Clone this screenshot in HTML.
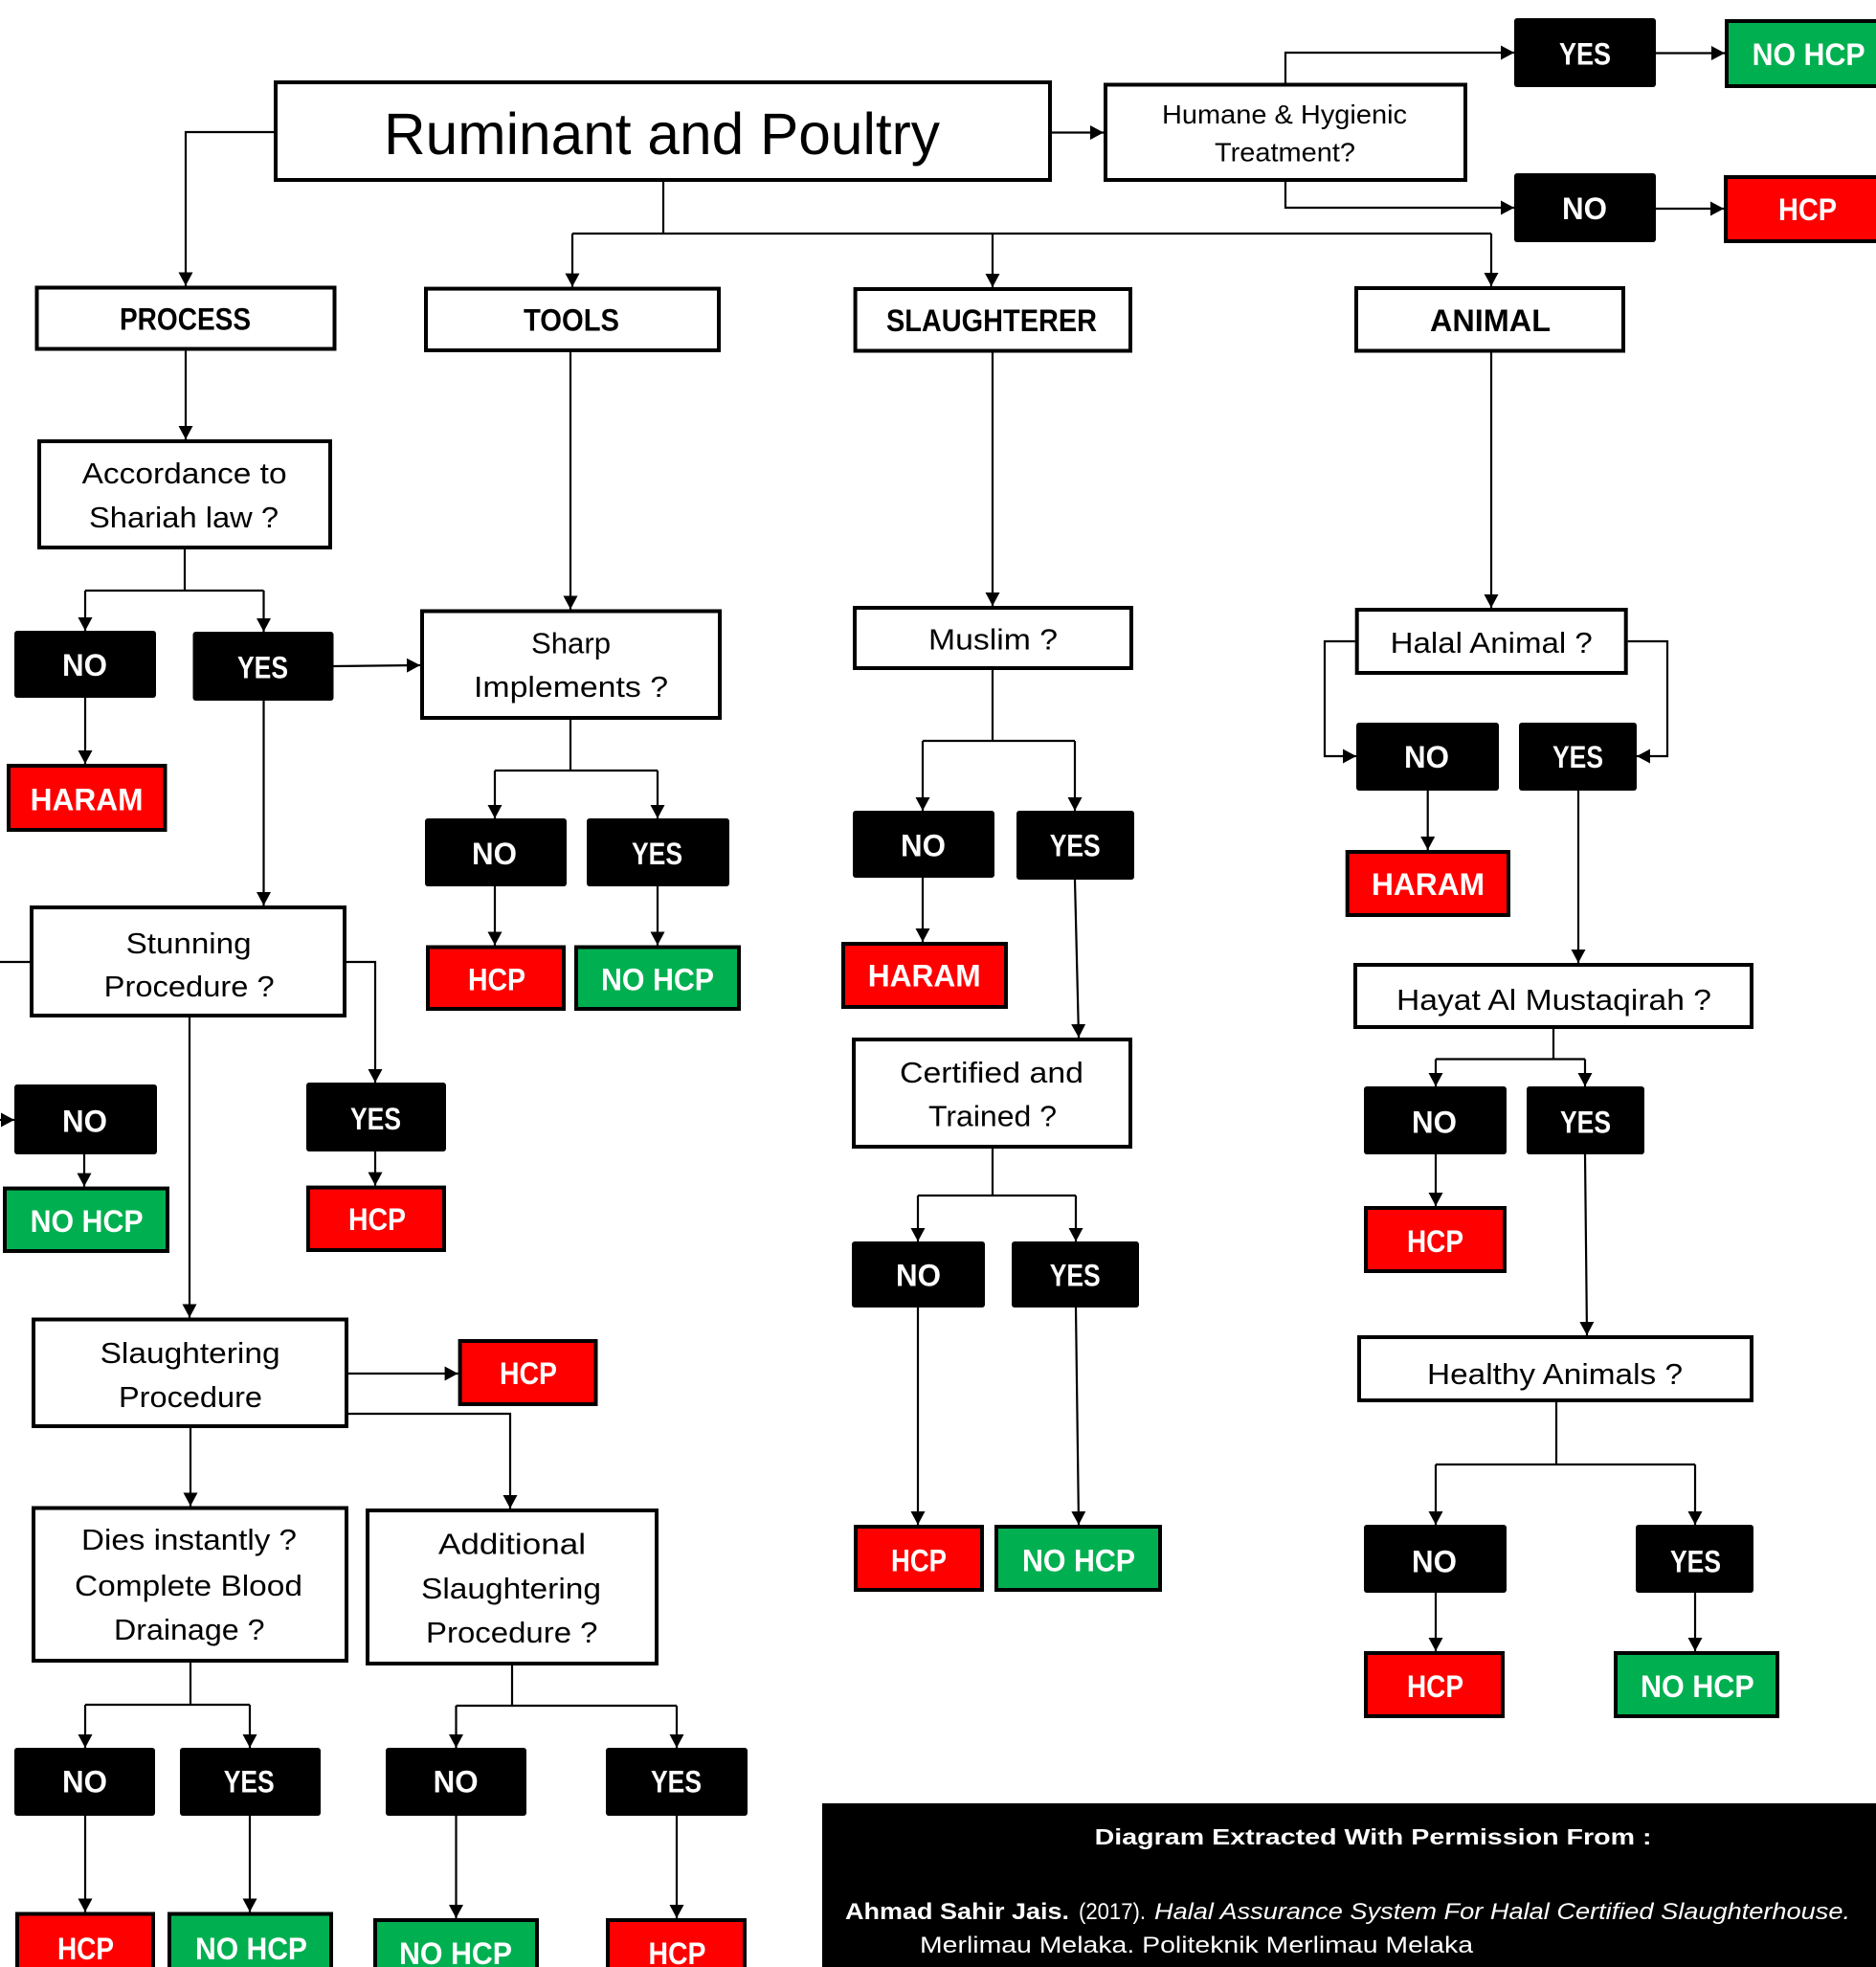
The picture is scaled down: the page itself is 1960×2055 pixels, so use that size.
<!DOCTYPE html>
<html><head><meta charset="utf-8"><style>html,body{margin:0;padding:0;background:#fff;}svg{display:block}</style></head>
<body>
<svg width="1960" height="2055" viewBox="0 0 1960 2055" xmlns="http://www.w3.org/2000/svg">
<defs>
<marker id="a" markerUnits="userSpaceOnUse" markerWidth="14" markerHeight="15" refX="14" refY="7.5" orient="auto"><path d="M0,0 L14,7.5 L0,15 z" fill="#000"/></marker>
</defs>
<rect width="1960" height="2055" fill="#fff"/>
<!-- connectors -->
<g fill="none" stroke="#000" stroke-width="2.2">
<path d="M286,138 H194 V298.5" marker-end="url(#a)"/>
<path d="M693,190 V244 M598,244 H1558"/>
<path d="M598,244 V299.6" marker-end="url(#a)"/>
<path d="M1037,244 V300" marker-end="url(#a)"/>
<path d="M1558,244 V299" marker-end="url(#a)"/>
<path d="M1099,138.5 H1153" marker-end="url(#a)"/>
<path d="M1343,86.5 V55 H1582" marker-end="url(#a)"/>
<path d="M1343,190 V217 H1582" marker-end="url(#a)"/>
<path d="M1730,55.5 H1802" marker-end="url(#a)"/>
<path d="M1730,218 H1801" marker-end="url(#a)"/>
<path d="M194,366.6 V459" marker-end="url(#a)"/>
<path d="M193,574 V617 M89,617 H275.5"/>
<path d="M89,617 V659" marker-end="url(#a)"/>
<path d="M275.5,617 V660" marker-end="url(#a)"/>
<path d="M89,729 V798" marker-end="url(#a)"/>
<path d="M348.5,696 L439,695" marker-end="url(#a)"/>
<path d="M275.5,732 V946" marker-end="url(#a)"/>
<path d="M596,368 V636.5" marker-end="url(#a)"/>
<path d="M596,752 V805 M517,805 H687"/>
<path d="M517,805 V855" marker-end="url(#a)"/>
<path d="M687,805 V855" marker-end="url(#a)"/>
<path d="M517,926 V987.5" marker-end="url(#a)"/>
<path d="M687,926 V987.5" marker-end="url(#a)"/>
<path d="M1037,368.5 V633" marker-end="url(#a)"/>
<path d="M1037,700 V774 M964,774 H1123"/>
<path d="M964,774 V847" marker-end="url(#a)"/>
<path d="M1123,774 V847" marker-end="url(#a)"/>
<path d="M964,917 V984" marker-end="url(#a)"/>
<path d="M1123,919 L1127,1084" marker-end="url(#a)"/>
<path d="M1037,1200 V1249 M959,1249 H1124"/>
<path d="M959,1249 V1297" marker-end="url(#a)"/>
<path d="M1124,1249 V1297" marker-end="url(#a)"/>
<path d="M959,1366 V1593" marker-end="url(#a)"/>
<path d="M1124,1366 L1127,1593" marker-end="url(#a)"/>
<path d="M1558,368.5 V635" marker-end="url(#a)"/>
<path d="M1415.7,670 H1384 V790 H1417" marker-end="url(#a)"/>
<path d="M1700.7,670 H1742 V790 H1710" marker-end="url(#a)"/>
<path d="M1491.7,825.7 V888" marker-end="url(#a)"/>
<path d="M1649,825.7 V1006" marker-end="url(#a)"/>
<path d="M1623,1075 V1106.5 M1500,1106.5 H1656"/>
<path d="M1500,1106.5 V1135" marker-end="url(#a)"/>
<path d="M1656,1106.5 V1135" marker-end="url(#a)"/>
<path d="M1500,1206 V1260" marker-end="url(#a)"/>
<path d="M1656,1206 L1658,1395" marker-end="url(#a)"/>
<path d="M1626,1465 V1530 M1500,1530 H1771"/>
<path d="M1500,1530 V1593" marker-end="url(#a)"/>
<path d="M1771,1530 V1593" marker-end="url(#a)"/>
<path d="M1500,1664 V1725" marker-end="url(#a)"/>
<path d="M1771,1664 V1725" marker-end="url(#a)"/>
<path d="M0,1005 H31"/>
<path d="M-5,1170 H15" marker-end="url(#a)"/>
<path d="M362,1005 H392 V1131" marker-end="url(#a)"/>
<path d="M392,1203 V1238.6" marker-end="url(#a)"/>
<path d="M88,1206 V1239.6" marker-end="url(#a)"/>
<path d="M198,1063 V1376.5" marker-end="url(#a)"/>
<path d="M364,1435 H478.6" marker-end="url(#a)"/>
<path d="M364,1477 H533 V1576" marker-end="url(#a)"/>
<path d="M199,1492 V1573.5" marker-end="url(#a)"/>
<path d="M199,1737 V1781 M89,1781 H261"/>
<path d="M89,1781 V1826" marker-end="url(#a)"/>
<path d="M261,1781 V1826" marker-end="url(#a)"/>
<path d="M89,1897 V1997.5" marker-end="url(#a)"/>
<path d="M261,1897 V1997.5" marker-end="url(#a)"/>
<path d="M535,1740 V1782 M476.5,1782 H707"/>
<path d="M476.5,1782 V1826" marker-end="url(#a)"/>
<path d="M707,1782 V1826" marker-end="url(#a)"/>
<path d="M476.5,1897 V2004" marker-end="url(#a)"/>
<path d="M707,1897 V2004" marker-end="url(#a)"/>
</g>

<!-- white boxes -->
<g fill="#fff" stroke="#000" stroke-width="4">
<rect x="288" y="86" width="809" height="102"/>
<rect x="1155" y="88.5" width="376" height="99.5"/>
<rect x="38.5" y="300.5" width="311" height="64"/>
<rect x="445" y="301.6" width="306" height="64.4"/>
<rect x="893.6" y="302" width="287.4" height="64.5"/>
<rect x="1417" y="301" width="279" height="65.5"/>
<rect x="41" y="461" width="304" height="111"/>
<rect x="441" y="638.5" width="311" height="111.5"/>
<rect x="893" y="635" width="289" height="63"/>
<rect x="1417.7" y="637" width="281" height="66"/>
<rect x="33" y="948" width="327" height="113"/>
<rect x="892" y="1086" width="289" height="112"/>
<rect x="1416" y="1008" width="414" height="65"/>
<rect x="1420" y="1397" width="410" height="66"/>
<rect x="35" y="1378.5" width="327" height="111.5"/>
<rect x="35" y="1575.5" width="327" height="159.5"/>
<rect x="384" y="1578" width="302" height="160"/>
</g>

<!-- black boxes -->
<g fill="#000">
<rect x="1582" y="19" width="148" height="72" rx="3"/>
<rect x="1582" y="181" width="148" height="72" rx="3"/>
<rect x="15" y="659" width="148" height="70" rx="3"/>
<rect x="201.5" y="660" width="147" height="72" rx="3"/>
<rect x="444" y="855" width="148" height="71" rx="3"/>
<rect x="613" y="855" width="149" height="71" rx="3"/>
<rect x="891" y="847" width="148" height="70" rx="3"/>
<rect x="1062" y="847" width="123" height="72" rx="3"/>
<rect x="1417" y="755" width="149" height="71" rx="3"/>
<rect x="1587" y="755" width="123" height="71" rx="3"/>
<rect x="15" y="1133" width="149" height="73" rx="3"/>
<rect x="320" y="1131" width="146" height="72" rx="3"/>
<rect x="890" y="1297" width="139" height="69" rx="3"/>
<rect x="1057" y="1297" width="133" height="69" rx="3"/>
<rect x="1425" y="1135" width="149" height="71" rx="3"/>
<rect x="1595" y="1135" width="123" height="71" rx="3"/>
<rect x="1425" y="1593" width="149" height="71" rx="3"/>
<rect x="1709" y="1593" width="123" height="71" rx="3"/>
<rect x="15" y="1826" width="147" height="71" rx="3"/>
<rect x="188" y="1826" width="147" height="71" rx="3"/>
<rect x="403" y="1826" width="147" height="71" rx="3"/>
<rect x="633" y="1826" width="148" height="71" rx="3"/>
<rect x="859" y="1884" width="1101" height="171"/>
</g>

<!-- red boxes -->
<g fill="#ff0000" stroke="#000" stroke-width="4">
<rect x="1803" y="185" width="170" height="67"/>
<rect x="9" y="800" width="163.5" height="67"/>
<rect x="447" y="989.5" width="142" height="64.5"/>
<rect x="881" y="986" width="170" height="66"/>
<rect x="1407.7" y="890" width="168.3" height="66"/>
<rect x="322" y="1240.6" width="142" height="65.4"/>
<rect x="1427" y="1262" width="145" height="66"/>
<rect x="480.6" y="1401" width="141.9" height="66"/>
<rect x="894" y="1595" width="132" height="66"/>
<rect x="1427" y="1727" width="143" height="66"/>
<rect x="18" y="1999.5" width="142" height="80"/>
<rect x="635" y="2006" width="143" height="80"/>
</g>

<!-- green boxes -->
<g fill="#00b050" stroke="#000" stroke-width="4">
<rect x="1804" y="22" width="170" height="68"/>
<rect x="602" y="989.5" width="170" height="64.5"/>
<rect x="5" y="1241.6" width="170" height="65.4"/>
<rect x="1041" y="1595" width="171" height="66"/>
<rect x="1688" y="1727" width="169" height="66"/>
<rect x="177" y="1999.5" width="169" height="80"/>
<rect x="392" y="2006" width="169" height="80"/>
</g>

<!-- regular black text -->
<g font-family="'Liberation Sans', Arial, sans-serif" fill="#000" lengthAdjust="spacingAndGlyphs">
<text x="401" y="161" font-size="61" textLength="581" lengthAdjust="spacingAndGlyphs">Ruminant and Poultry</text>
<text x="1214" y="129" font-size="28" textLength="256" lengthAdjust="spacingAndGlyphs">Humane &amp; Hygienic</text>
<text x="1269" y="168.4" font-size="28" textLength="147" lengthAdjust="spacingAndGlyphs">Treatment?</text>
<text x="85.6" y="505" font-size="31" textLength="214" lengthAdjust="spacingAndGlyphs">Accordance to</text>
<text x="93" y="551" font-size="31" textLength="198" lengthAdjust="spacingAndGlyphs">Shariah law ?</text>
<text x="555" y="682.4" font-size="31" textLength="83" lengthAdjust="spacingAndGlyphs">Sharp</text>
<text x="495" y="728" font-size="31" textLength="203" lengthAdjust="spacingAndGlyphs">Implements ?</text>
<text x="131.6" y="996" font-size="31" textLength="131" lengthAdjust="spacingAndGlyphs">Stunning</text>
<text x="108.7" y="1041" font-size="31" textLength="178" lengthAdjust="spacingAndGlyphs">Procedure ?</text>
<text x="104.6" y="1424" font-size="31" textLength="188" lengthAdjust="spacingAndGlyphs">Slaughtering</text>
<text x="124" y="1470" font-size="31" textLength="150" lengthAdjust="spacingAndGlyphs">Procedure</text>
<text x="85" y="1619" font-size="31" textLength="225" lengthAdjust="spacingAndGlyphs">Dies instantly ?</text>
<text x="78" y="1667" font-size="31" textLength="238" lengthAdjust="spacingAndGlyphs">Complete Blood</text>
<text x="119" y="1713" font-size="31" textLength="157.5" lengthAdjust="spacingAndGlyphs">Drainage ?</text>
<text x="458" y="1623.6" font-size="31" textLength="154" lengthAdjust="spacingAndGlyphs">Additional</text>
<text x="440" y="1670" font-size="31" textLength="188" lengthAdjust="spacingAndGlyphs">Slaughtering</text>
<text x="445" y="1716" font-size="31" textLength="179.5" lengthAdjust="spacingAndGlyphs">Procedure ?</text>
<text x="970" y="678.6" font-size="31" textLength="135" lengthAdjust="spacingAndGlyphs">Muslim ?</text>
<text x="940" y="1131" font-size="31" textLength="192" lengthAdjust="spacingAndGlyphs">Certified and</text>
<text x="970" y="1176.6" font-size="31" textLength="134" lengthAdjust="spacingAndGlyphs">Trained ?</text>
<text x="1452.7" y="682" font-size="31" textLength="211" lengthAdjust="spacingAndGlyphs">Halal Animal ?</text>
<text x="1459" y="1055" font-size="31" textLength="329" lengthAdjust="spacingAndGlyphs">Hayat Al Mustaqirah ?</text>
<text x="1491" y="1446" font-size="31" textLength="267" lengthAdjust="spacingAndGlyphs">Healthy Animals ?</text>
</g>

<!-- bold black header text -->
<g font-family="'Liberation Sans', Arial, sans-serif" font-weight="700" font-size="32" fill="#000">
<text x="125" y="344.4" textLength="137" lengthAdjust="spacingAndGlyphs">PROCESS</text>
<text x="547" y="345.6" textLength="100" lengthAdjust="spacingAndGlyphs">TOOLS</text>
<text x="926" y="346" textLength="220" lengthAdjust="spacingAndGlyphs">SLAUGHTERER</text>
<text x="1494" y="346" textLength="126" lengthAdjust="spacingAndGlyphs">ANIMAL</text>
</g>

<!-- bold white labels -->
<g font-family="'Liberation Sans', Arial, sans-serif" font-weight="700" font-size="32" fill="#fff">
<text x="1629" y="67.7" textLength="54" lengthAdjust="spacingAndGlyphs">YES</text>
<text x="1830.6" y="68" textLength="118" lengthAdjust="spacingAndGlyphs">NO HCP</text>
<text x="1632" y="229" textLength="47" lengthAdjust="spacingAndGlyphs">NO</text>
<text x="1858" y="230" textLength="61" lengthAdjust="spacingAndGlyphs">HCP</text>

<text x="65" y="706" textLength="47" lengthAdjust="spacingAndGlyphs">NO</text>
<text x="248" y="708.5" textLength="53" lengthAdjust="spacingAndGlyphs">YES</text>
<text x="31.6" y="846.7" textLength="118" lengthAdjust="spacingAndGlyphs">HARAM</text>

<text x="493" y="903" textLength="47" lengthAdjust="spacingAndGlyphs">NO</text>
<text x="660" y="903" textLength="53" lengthAdjust="spacingAndGlyphs">YES</text>
<text x="489" y="1034.5" textLength="60" lengthAdjust="spacingAndGlyphs">HCP</text>
<text x="628" y="1034.5" textLength="118" lengthAdjust="spacingAndGlyphs">NO HCP</text>

<text x="65" y="1182.4" textLength="47" lengthAdjust="spacingAndGlyphs">NO</text>
<text x="366" y="1180" textLength="53" lengthAdjust="spacingAndGlyphs">YES</text>
<text x="31.6" y="1287" textLength="118" lengthAdjust="spacingAndGlyphs">NO HCP</text>
<text x="364" y="1285" textLength="60" lengthAdjust="spacingAndGlyphs">HCP</text>

<text x="522" y="1446" textLength="60" lengthAdjust="spacingAndGlyphs">HCP</text>

<text x="65" y="1872.6" textLength="47" lengthAdjust="spacingAndGlyphs">NO</text>
<text x="233.7" y="1872.6" textLength="53" lengthAdjust="spacingAndGlyphs">YES</text>
<text x="452.6" y="1872.6" textLength="47" lengthAdjust="spacingAndGlyphs">NO</text>
<text x="680" y="1872.6" textLength="53" lengthAdjust="spacingAndGlyphs">YES</text>
<text x="60" y="2047" textLength="59" lengthAdjust="spacingAndGlyphs">HCP</text>
<text x="204" y="2047" textLength="117" lengthAdjust="spacingAndGlyphs">NO HCP</text>
<text x="417" y="2052" textLength="118" lengthAdjust="spacingAndGlyphs">NO HCP</text>
<text x="677.5" y="2052" textLength="60" lengthAdjust="spacingAndGlyphs">HCP</text>

<text x="941" y="894.6" textLength="47" lengthAdjust="spacingAndGlyphs">NO</text>
<text x="1096.7" y="894.6" textLength="53" lengthAdjust="spacingAndGlyphs">YES</text>
<text x="906.7" y="1030.7" textLength="118" lengthAdjust="spacingAndGlyphs">HARAM</text>
<text x="936" y="1343.6" textLength="47" lengthAdjust="spacingAndGlyphs">NO</text>
<text x="1096.7" y="1343.6" textLength="53" lengthAdjust="spacingAndGlyphs">YES</text>
<text x="931" y="1641.7" textLength="58" lengthAdjust="spacingAndGlyphs">HCP</text>
<text x="1068" y="1641.7" textLength="118" lengthAdjust="spacingAndGlyphs">NO HCP</text>

<text x="1467" y="802" textLength="47" lengthAdjust="spacingAndGlyphs">NO</text>
<text x="1622" y="802" textLength="53" lengthAdjust="spacingAndGlyphs">YES</text>
<text x="1433" y="935" textLength="118" lengthAdjust="spacingAndGlyphs">HARAM</text>
<text x="1475" y="1183.6" textLength="47" lengthAdjust="spacingAndGlyphs">NO</text>
<text x="1630" y="1183.6" textLength="53" lengthAdjust="spacingAndGlyphs">YES</text>
<text x="1470" y="1308" textLength="59" lengthAdjust="spacingAndGlyphs">HCP</text>
<text x="1475" y="1642.6" textLength="47" lengthAdjust="spacingAndGlyphs">NO</text>
<text x="1745" y="1642.6" textLength="53" lengthAdjust="spacingAndGlyphs">YES</text>
<text x="1470" y="1773" textLength="59" lengthAdjust="spacingAndGlyphs">HCP</text>
<text x="1714" y="1773" textLength="118.7" lengthAdjust="spacingAndGlyphs">NO HCP</text>
</g>

<!-- footer text -->
<g font-family="'Liberation Sans', Arial, sans-serif" fill="#fff">
<text x="1143.6" y="1927" font-size="23" font-weight="700" textLength="582" lengthAdjust="spacingAndGlyphs">Diagram Extracted With Permission From :</text>
<text x="883" y="2005" font-size="24" font-weight="700" textLength="234" lengthAdjust="spacingAndGlyphs">Ahmad Sahir Jais.</text>
<text x="1127" y="2005" font-size="24" textLength="70" lengthAdjust="spacingAndGlyphs">(2017).</text>
<text x="1206" y="2005" font-size="24" font-style="italic" textLength="727" lengthAdjust="spacingAndGlyphs">Halal Assurance System For Halal Certified Slaughterhouse.</text>
<text x="961" y="2040" font-size="24" textLength="578" lengthAdjust="spacingAndGlyphs">Merlimau Melaka. Politeknik Merlimau Melaka</text>
</g>
</svg>
</body></html>
